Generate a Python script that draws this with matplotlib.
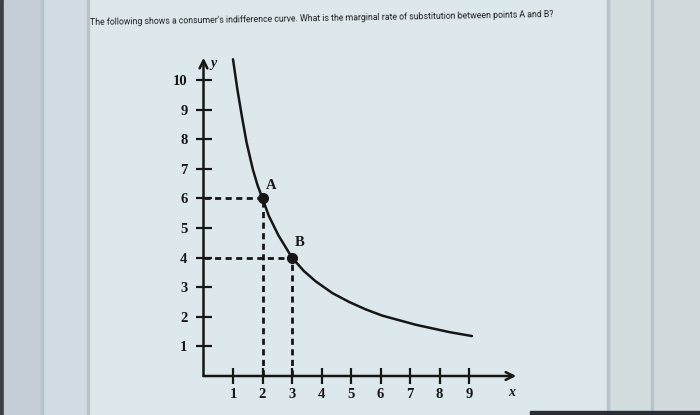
import matplotlib
matplotlib.use('Agg')
import matplotlib.pyplot as plt
from matplotlib.patches import Rectangle
from matplotlib import font_manager

# curve (x, y)
curve_x = [1.0, 1.15, 1.3, 1.46, 1.67, 1.83, 2.0, 2.21, 2.54, 3.0, 3.4, 3.8, 4.37, 4.94, 5.5, 6.06, 7.2, 8.35, 9.1]
curve_y = [10.7, 9.67, 8.78, 7.89, 6.99, 6.45, 6.0, 5.42, 4.75, 4.0, 3.55, 3.2, 2.8, 2.5, 2.25, 2.04, 1.73, 1.48, 1.35]

points = ['A', 'B']
point_x = [2, 3]
point_y = [6, 4]

x_ticks = [1, 2, 3, 4, 5, 6, 7, 8, 9]
y_ticks = [1, 2, 3, 4, 5, 6, 7, 8, 9, 10]

title = ("The following shows a consumer's indifference curve. "
         "What is the marginal rate of substitution between points A and B?")

ink = '#161616'
W, H = 700, 415

names = {f.name for f in font_manager.fontManager.ttflist}

fig = plt.figure(figsize=(7, 4.15), dpi=100, facecolor='#dde8ed')

# screen / bezel strips of the photo
def strip(x0, x1, color):
    fig.patches.append(Rectangle((x0 / W, 0), (x1 - x0) / W, 1,
                                 transform=fig.transFigure, color=color, zorder=0))

strip(0, 4, '#3c4148')
strip(4, 42, '#c6ced5')
strip(42, 88, '#d0dce1')
strip(608, 652, '#d3dcdf')
strip(652, 700, '#d2d9dc')
for xl in [42, 88, 608, 652]:
    strip(xl - 1, xl + 1, '#b9c3c9')
fig.patches.append(Rectangle((530 / W, 0), 170 / W, 4 / H, transform=fig.transFigure,
                             color='#2b2f35', zorder=0))

# axes placed so origin lands at the picture's origin
ox, oy, ux, uy = 203.5, 376.0, 29.5, 29.6
xmax, ymax = 11.5, 11.0
ax = fig.add_axes([ox / W, (H - oy) / H, xmax * ux / W, ymax * uy / H])
ax.set_xlim(0, xmax)
ax.set_ylim(0, ymax)
ax.patch.set_alpha(0)
for s in ax.spines.values():
    s.set_visible(False)

# axes with arrows
ax.annotate('', xy=(10.6, 0), xytext=(0, 0),
            arrowprops=dict(arrowstyle='->', color=ink, lw=1.8, mutation_scale=14,
                            shrinkA=0, shrinkB=0))
ax.annotate('', xy=(0, 10.75), xytext=(0, 0),
            arrowprops=dict(arrowstyle='->', color=ink, lw=1.8, mutation_scale=14,
                            shrinkA=0, shrinkB=0))

ax.set_xticks(x_ticks)
ax.set_yticks(y_ticks)
ax.tick_params(direction='inout', length=11, width=1.6, color=ink, labelcolor=ink)
ax.tick_params(axis='x', pad=3)
ax.tick_params(axis='y', pad=6)
for lab in ax.get_xticklabels() + ax.get_yticklabels():
    lab.set_fontfamily('Liberation Serif')
    lab.set_fontsize(10.5)
    lab.set_fontweight('bold')

ax.text(10.45, -0.55, 'x', ha='center', va='center', fontsize=10,
        fontfamily='Liberation Serif', fontstyle='italic', fontweight='bold', color=ink)
ax.text(0.22, 10.55, 'y', ha='left', va='center', fontsize=10,
        fontfamily='Liberation Serif', fontstyle='italic', fontweight='bold', color=ink)

# dashed guides
for px, py in zip(point_x, point_y):
    ax.plot([0, px], [py, py], ls=(0, (2.2, 1.6)), lw=2, color=ink)
    ax.plot([px, px], [0, py], ls=(0, (2.2, 1.6)), lw=2, color=ink)

ax.plot(curve_x, curve_y, color=ink, lw=1.8, solid_capstyle='round',
        solid_joinstyle='round')
ax.plot(point_x, point_y, 'o', ms=7, color=ink, zorder=5)

offsets = {'A': (0.3, 0.45), 'B': (0.25, 0.5)}
for name, px, py in zip(points, point_x, point_y):
    dx, dy = offsets[name]
    ax.text(px + dx, py + dy, name, ha='center', va='center', fontsize=10.5,
            fontfamily='Liberation Serif', fontweight='bold', color=ink)

title_font = 'Liberation Sans Narrow' if 'Liberation Sans Narrow' in names else 'Roboto'
title_size = 7.6 if title_font == 'Liberation Sans Narrow' else 6.3
fig.text(90 / W, 1 - 18 / H, title, ha='left', va='center', fontsize=title_size,
         fontfamily=title_font, color='#1e1e1e', rotation=1.0)

fig.savefig('out.png', dpi=100, facecolor=fig.get_facecolor())
